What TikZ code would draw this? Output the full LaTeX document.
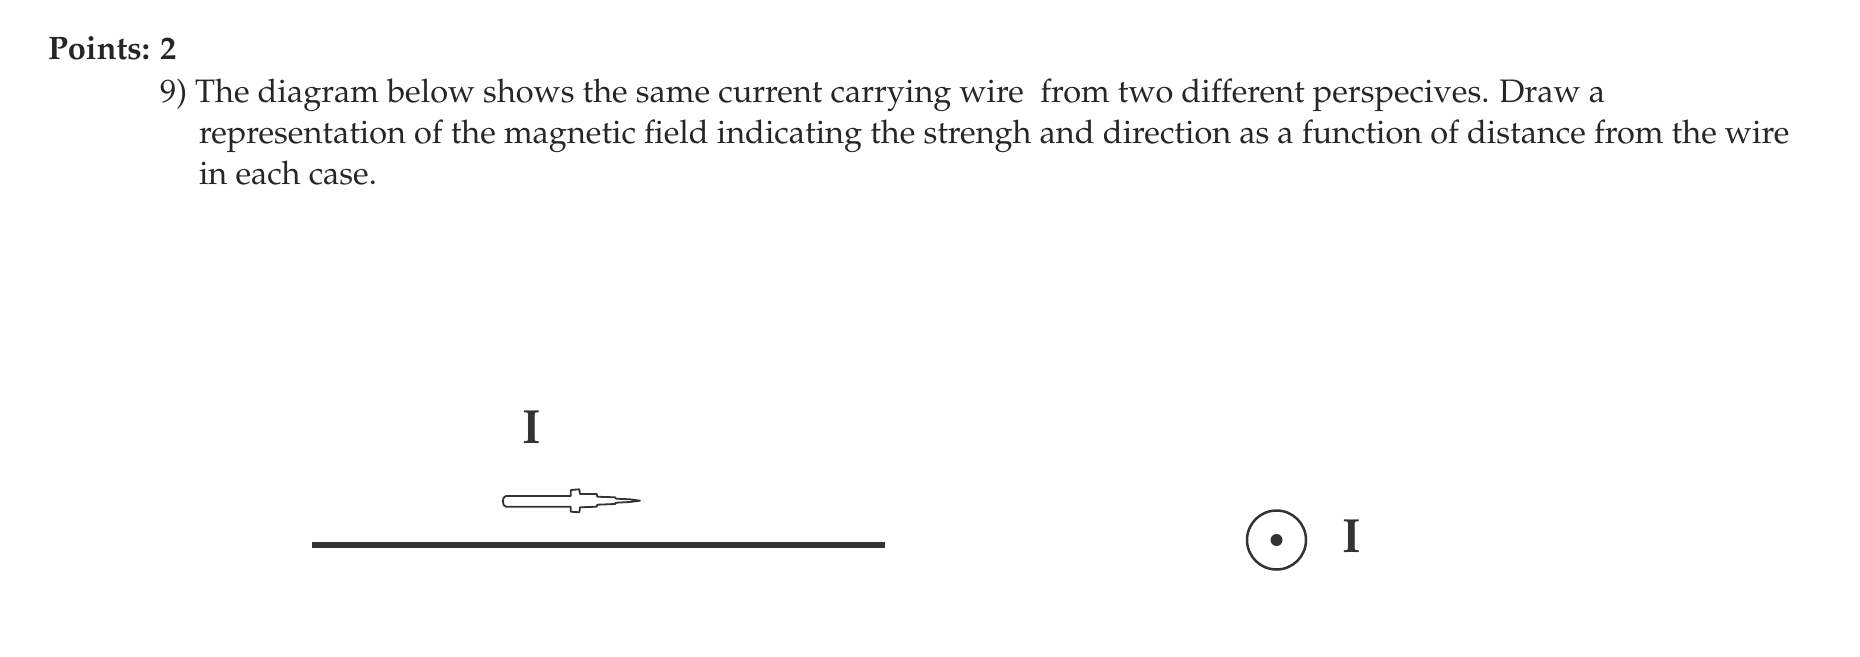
\documentclass[tikz,border=0pt]{standalone}
\usepackage[T1]{fontenc}
\usepackage{mathpazo}
\begin{document}
\begin{tikzpicture}[x=1pt,y=-1pt,
  txt/.style={anchor=base west,inner sep=0pt,outer sep=0pt,font=\fontsize{32.5}{39}\selectfont,text=black!85},
  bigI/.style={anchor=base,inner sep=0pt,font=\fontsize{48}{56}\selectfont\bfseries,text=black!80},
  ink/.style={draw=black!80}]
\useasboundingbox (0,0) rectangle (1860,656);
\node[txt,font=\fontsize{32.5}{39}\selectfont\bfseries] (pts) at (48,59) {Points: 2};
\node[txt] (l1) at (160,102) {9) The diagram below shows the same current carrying wire\ \ from two different perspecives. Draw a};
\node[txt] (l2) at (199,143.5) {representation of the magnetic field indicating the strengh and direction as a function of distance from the wire};
\node[txt] (l3) at (199,184) {in each case.};
% side view
\coordinate (wl) at (312,545);
\coordinate (wr) at (885,545);
\draw[ink,line width=5.5pt] (wl) -- (wr);
\node[bigI] (Ia) at (532,443) {I};
\draw[ink,line width=1.8pt,line join=round] (506,496) -- (570.7,496) -- (570.7,490) -- (579.3,489.3) -- (580,494) -- (596.7,494) -- (597.3,496.7) -- (615,497.3) -- (616,498.7) -- (630,499.3) -- (640,500.7)
  -- (630,502) -- (616,502.7) -- (615,504) -- (597.3,504.7) -- (596.7,506.7) -- (580,507.3) -- (579.3,512.3) -- (570.7,511.7) -- (570.7,506.7) -- (506,506.7) to[out=180,in=180] (506,496) -- cycle;
% end view
\node[circle,ink,line width=2.5pt,minimum size=59pt,inner sep=0pt] (wire) at (1276.5,540) {};
\fill[black!80] (wire.center) circle (6);
\node[bigI] (Ib) at (1352,552) {I};
\end{tikzpicture}
\end{document}
